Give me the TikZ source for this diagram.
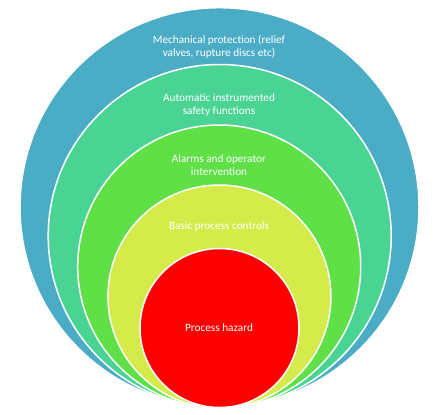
\documentclass[tikz,border=0pt]{standalone}
\usepackage{fontspec}
\setmainfont{Carlito}
\definecolor{cOuter}{RGB}{75,172,198}
\definecolor{cAuto}{RGB}{74,212,148}
\definecolor{cAlarm}{RGB}{94,224,70}
\definecolor{cBasic}{RGB}{212,235,74}
\definecolor{cHaz}{RGB}{255,0,0}
\tikzset{
  ring/.style={circle, draw=white, line width=1.5bp, inner sep=0pt},
  lbl/.style={text=white, font=\fontsize{11.3}{13.3}\selectfont, align=center, inner sep=0pt}
}
\begin{document}
\begin{tikzpicture}[x=1bp,y=-1bp]
\useasboundingbox (0,0) rectangle (436,414);
\node[ring, fill=cOuter, minimum size=399bp] (c1) at (219.5,207.2) {};
\node[ring, fill=cAuto, minimum size=343bp] (c2) at (219.7,236) {};
\node[ring, fill=cAlarm, minimum size=283bp] (c3) at (219.2,266.5) {};
\node[ring, fill=cBasic, minimum size=223bp] (c4) at (219.4,296.5) {};
\node[ring, fill=cHaz, minimum size=159bp] (c5) at (219.5,328) {};
\node[lbl] (t1) at (219,46.7) {Mechanical protection (relief\\valves, rupture discs etc)};
\node[lbl] (t2) at (219,105.3) {Automatic instrumented\\safety functions};
\node[lbl] (t3) at (219,165) {Alarms and operator\\intervention};
\node[lbl] (t4) at (219,226.7) {Basic process controls};
\node[lbl] (t5) at (219,327.3) {Process hazard};
\end{tikzpicture}
\end{document}
